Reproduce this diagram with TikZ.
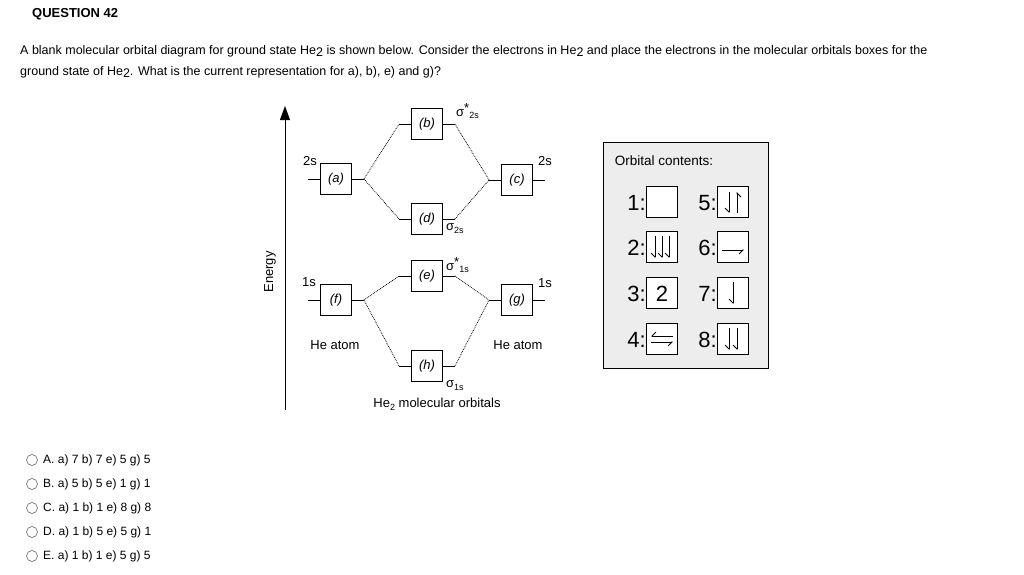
\documentclass[tikz,border=0pt]{standalone}
\usepackage{fontspec}
\setmainfont{Liberation Sans}
\usetikzlibrary{arrows.meta}
\begin{document}
\begin{tikzpicture}[x=1pt,y=-1pt,
  ob/.style={draw,line width=0.9pt,minimum width=31pt,minimum height=31pt,inner sep=0pt,font=\fontsize{13}{13}\selectfont\itshape},
  cb/.style={draw,line width=0.9pt,fill=white,minimum width=31pt,minimum height=31pt,inner sep=0pt,font=\fontsize{22}{22}\selectfont},
  lab/.style={font=\fontsize{13}{13}\selectfont,inner sep=0pt},
  dl/.style={densely dotted,line width=0.8pt},
  hps/.style={line width=0.8pt,-{Straight Barb[harpoon,swap,length=4pt,width=8pt]}},
  opt/.style={font=\fontsize{12}{12}\selectfont,anchor=west,inner sep=0pt}]
\useasboundingbox (0,0) rectangle (1024,574);
\node[anchor=west,inner sep=0pt,font=\fontsize{13}{13}\selectfont\bfseries] (q) at (32,14) {QUESTION 42};
\node[anchor=west,inner sep=0pt,font=\fontsize{12.5}{12.5}\selectfont] (p1) at (20,51) {A blank molecular orbital diagram for ground state He\raisebox{-2pt}{2} is shown below. Consider the electrons in He\raisebox{-2pt}{2} and place the electrons in the molecular orbitals boxes for the};
\node[anchor=west,inner sep=0pt,font=\fontsize{12.5}{12.5}\selectfont] (p2) at (20,72) {ground state of He\raisebox{-2pt}{2}. What is the current representation for a), b), e) and g)?};
% energy axis
\coordinate (e0) at (285,410); \coordinate (e1) at (285,106);
\draw[line width=1pt,-{Triangle[length=14pt,width=10pt]}] (e0) -- (e1);
\node[rotate=90,lab] (en) at (270,272) {Energy};
% boxes
\node[ob] (a) at (336,179) {(a)};
\node[ob] (b) at (427,124) {(b)};
\node[ob] (c) at (517,180) {(c)};
\node[ob] (d) at (427,219) {(d)};
\node[ob] (e) at (427,276) {(e)};
\node[ob] (f) at (336,300) {(f)};
\node[ob] (g) at (517,300) {(g)};
\node[ob] (h) at (427,366) {(h)};
% stubs
\foreach \n in {a,b,c,d,e,f,g,h}{
  \coordinate (\n L) at ([xshift=-12pt]\n.west);
  \coordinate (\n R) at ([xshift=12pt]\n.east);
  \draw[line width=0.9pt] (\n L) -- (\n.west) (\n.east) -- (\n R);}
\draw[dl] (aR) -- (bL) (aR) -- (dL) (bR) -- (cL) (dR) -- (cL);
\draw[dl] (fR) -- (eL) (fR) -- (hL) (eR) -- (gL) (hR) -- (gL);
% labels
\node[lab] (l2a) at (310,161) {2s};
\node[lab] (l2c) at (545,161) {2s};
\node[lab] (l1f) at (309,282) {1s};
\node[lab] (l1g) at (545,283) {1s};
\node[lab,anchor=west] (sb) at (456,111) {σ\raisebox{4pt}{*}\raisebox{-2pt}{\fontsize{9}{9}\selectfont 2s}};
\node[lab,anchor=west] (sd) at (446,229) {σ\raisebox{-3pt}{\fontsize{9}{9}\selectfont 2s}};
\node[lab,anchor=west] (se) at (446,265) {σ\raisebox{4pt}{*}\raisebox{-2pt}{\fontsize{9}{9}\selectfont 1s}};
\node[lab,anchor=west] (sh) at (446,386) {σ\raisebox{-3pt}{\fontsize{9}{9}\selectfont 1s}};
\node[lab] (ha1) at (335,345) {He atom};
\node[lab] (ha2) at (518,345) {He atom};
\node[lab] (mo) at (437,404) {He\raisebox{-3pt}{\fontsize{9}{9}\selectfont 2} molecular orbitals};
% orbital contents
\node[draw,line width=0.9pt,fill=black!7,minimum width=165pt,minimum height=226pt,inner sep=0pt] (frame) at (685.5,255) {};
\node[lab,font=\fontsize{13.5}{13.5}\selectfont] (oc) at (664,161) {Orbital contents:};
\foreach \i/\y in {1/202,2/247,3/293,4/339}{
  \node[cb] (c\i) at (662,\y) {};
  \node[anchor=east,inner sep=0pt,font=\fontsize{22}{22}\selectfont] (n\i) at (646,\y+1) {\i:};}
\foreach \i/\y in {5/202,6/247,7/293,8/339}{
  \node[cb] (c\i) at (733,\y) {};
  \node[anchor=east,inner sep=0pt,font=\fontsize{22}{22}\selectfont] (n\i) at (717,\y+1) {\i:};}
\node[inner sep=0pt,font=\fontsize{22}{22}\selectfont] (t3) at (662,294) {2};
% harpoons
\draw[hps] ([xshift=-4pt,yshift=10pt]c5.center) -- ([xshift=-4pt,yshift=-11pt]c5.center);
\draw[hps] ([xshift=4pt,yshift=-11pt]c5.center) -- ([xshift=4pt,yshift=10pt]c5.center);
\foreach \dx in {-7,0,7}
  \draw[hps] ([xshift=\dx pt,yshift=11pt]c2.center) -- ([xshift=\dx pt,yshift=-11pt]c2.center);
\draw[hps] ([xshift=-11pt,yshift=-3pt]c6.center) -- ([xshift=11pt,yshift=-3pt]c6.center);
\draw[hps] ([yshift=11pt]c7.center) -- ([yshift=-11pt]c7.center);
\foreach \dx in {-4,4}
  \draw[hps] ([xshift=\dx pt,yshift=11pt]c8.center) -- ([xshift=\dx pt,yshift=-11pt]c8.center);
\draw[hps] ([xshift=-11pt,yshift=-3pt]c4.center) -- ([xshift=11pt,yshift=-3pt]c4.center);
\draw[hps] ([xshift=11pt,yshift=3pt]c4.center) -- ([xshift=-11pt,yshift=3pt]c4.center);
% options
\foreach \t [count=\k] in {A. a) 7 b) 7 e) 5 g) 5, B. a) 5 b) 5 e) 1 g) 1, C. a) 1 b) 1 e) 8 g) 8, D. a) 1 b) 5 e) 5 g) 1, E. a) 1 b) 1 e) 5 g) 5}{
  \node[circle,draw=black!55,line width=0.7pt,minimum size=11pt,inner sep=0pt] (r\k) at (32,436+24*\k) {};
  \node[opt] (o\k) at (43,436+24*\k) {\t};}
\end{tikzpicture}
\end{document}
